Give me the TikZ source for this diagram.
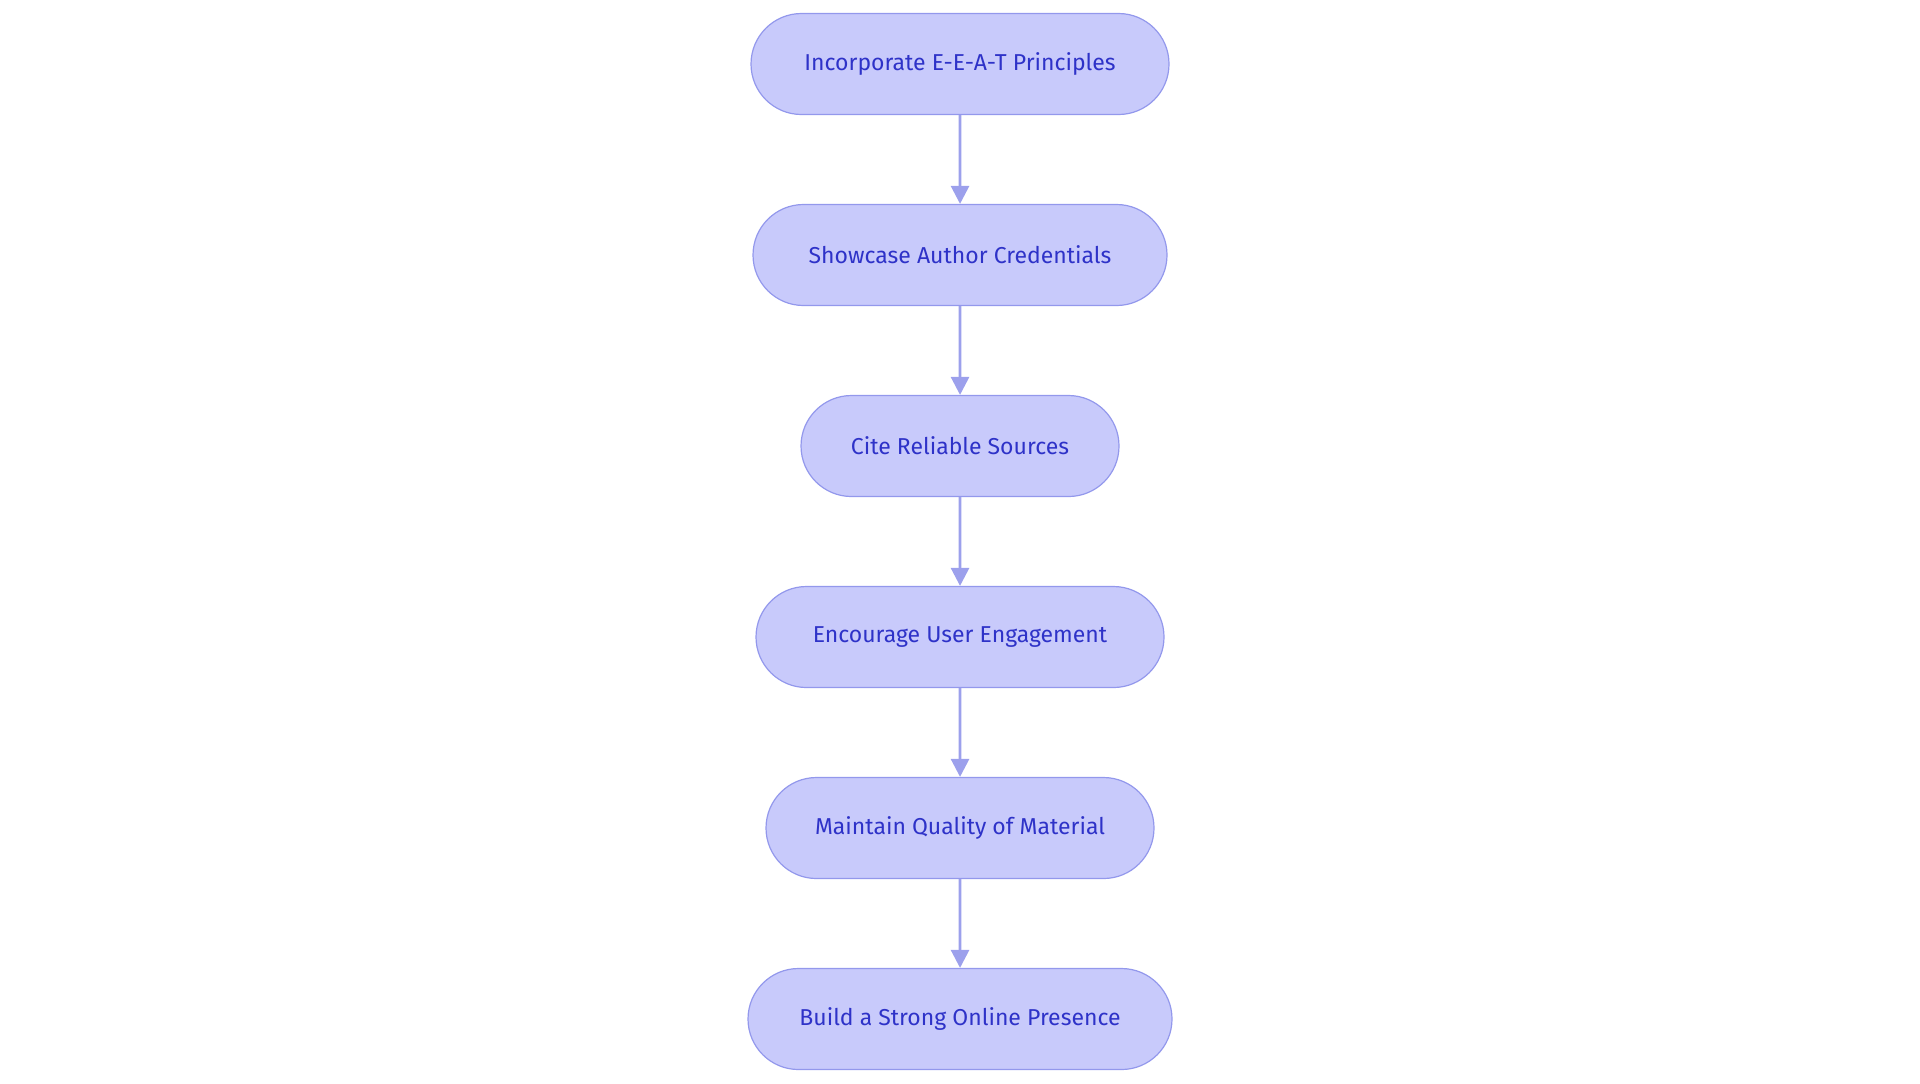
\documentclass[tikz,border=0pt]{standalone}
\usepackage{fontspec}
\setmainfont{Fira Sans}
\usetikzlibrary{arrows.meta,shapes.misc}
\definecolor{nfill}{HTML}{C8CAFB}
\definecolor{nline}{HTML}{9398EC}
\definecolor{ntext}{HTML}{2E32C8}
\definecolor{aline}{HTML}{9CA0EC}
\begin{document}
\begin{tikzpicture}[x=0.5pt,y=-0.5pt,
  box/.style={rounded rectangle, draw=nline, fill=nfill, line width=0.6pt, text=ntext,
    font=\fontsize{11.5}{13}\selectfont, minimum height=50.5pt, inner sep=0pt},
  arr/.style={draw=aline, line width=1.4pt, -{Triangle[length=9pt,width=9pt]}}]
\useasboundingbox (0,0) rectangle (1920,1083);
\node[box, minimum width=209pt] (n1) at (960,64) {Incorporate E-E-A-T Principles};
\node[box, minimum width=207pt] (n2) at (960,255) {Showcase Author Credentials};
\node[box, minimum width=159pt] (n3) at (960,446) {Cite Reliable Sources};
\node[box, minimum width=204pt] (n4) at (960,637) {Encourage User Engagement};
\node[box, minimum width=194pt] (n5) at (960,828) {Maintain Quality of Material};
\node[box, minimum width=212pt] (n6) at (960,1019) {Build a Strong Online Presence};
\draw[arr] (n1) -- (n2);
\draw[arr] (n2) -- (n3);
\draw[arr] (n3) -- (n4);
\draw[arr] (n4) -- (n5);
\draw[arr] (n5) -- (n6);
\end{tikzpicture}
\end{document}
